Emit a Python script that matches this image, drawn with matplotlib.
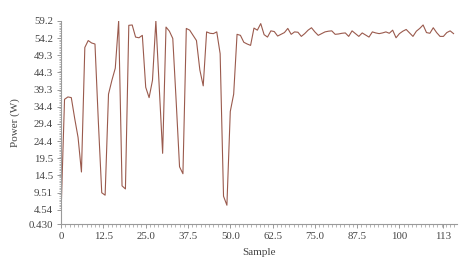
import numpy as np
import matplotlib.pyplot as plt
from matplotlib.ticker import FixedLocator, MultipleLocator

# power readings per sample
power = [
    4.6, 36.5, 37.2, 37.0, 31.0, 25.5, 15.5, 51.5, 53.5, 52.8,
    52.5, 30.0, 9.5, 8.8, 38.0, 42.0, 45.5, 59.2, 11.5, 10.6,
    57.9, 58.0, 54.5, 54.3, 55.0, 40.0, 37.0, 42.0, 59.2, 40.0,
    20.9, 57.4, 56.2, 54.1, 36.0, 17.0, 15.0, 57.0, 56.5, 55.0,
    53.5, 45.0, 40.4, 56.0, 55.6, 55.5, 56.0, 49.7, 8.5, 5.9,
    33.0, 38.0, 55.3, 55.0, 53.0, 52.5, 52.1, 57.1, 56.5, 58.4,
    55.2, 54.5, 56.3, 56.1, 54.8, 55.3, 55.8, 57.0, 55.3, 56.0,
    55.9, 54.7, 55.5, 56.5, 57.2, 56.0, 55.0, 55.5, 56.0, 56.2,
    56.3, 55.3, 55.4, 55.6, 55.7, 54.7, 56.3, 55.5, 54.7, 55.7,
    55.1, 54.5, 56.0, 55.7, 55.5, 55.7, 56.0, 55.6, 56.5, 54.3,
    55.5, 56.2, 56.7, 55.7, 54.7, 56.2, 57.0, 58.0, 55.8, 55.6,
    57.2, 55.8, 54.7, 54.7, 55.8, 56.3, 55.5,
]
sample = np.arange(len(power))

y_ticks = [0.430, 4.54, 9.51, 14.5, 19.5, 24.4, 29.4, 34.4, 39.3, 44.3, 49.3, 54.2, 59.2]
y_labels = ['0.430', '4.54', '9.51', '14.5', '19.5', '24.4', '29.4', '34.4',
            '39.3', '44.3', '49.3', '54.2', '59.2']
x_ticks = [0, 12.5, 25.0, 37.5, 50.0, 62.5, 75.0, 87.5, 100, 113]
x_labels = ['0', '12.5', '25.0', '37.5', '50.0', '62.5', '75.0', '87.5', '100', '113']

plt.rcParams['font.family'] = ['Liberation Serif', 'DejaVu Serif']

fig = plt.figure(figsize=(4.74, 2.74), dpi=100)
ax = fig.add_axes([0.129, 0.182, 0.835, 0.742])

ax.plot(sample, power, color='#9a5a4d', lw=0.8)

ax.set_xlim(0, 117)
ax.set_ylim(0.43, 59.2)

ax.set_xticks(x_ticks)
ax.set_xticklabels(x_labels)
ax.set_yticks(y_ticks)
ax.set_yticklabels(y_labels)
ax.xaxis.set_minor_locator(MultipleLocator(1.25))
minor_y = np.arange(4.54, 59.2, 0.4969)
ax.yaxis.set_minor_locator(FixedLocator(minor_y))

for s in ['top', 'right']:
    ax.spines[s].set_visible(False)
for s in ['left', 'bottom']:
    ax.spines[s].set_color('#9a9a9a')
    ax.spines[s].set_linewidth(0.8)

ax.tick_params(which='major', length=3, width=0.6, color='#888888',
               labelsize=7.8, labelcolor='#444444', pad=3)
ax.tick_params(which='minor', length=1.8, width=0.5, color='#999999')

ax.set_xlabel('Sample', fontsize=8, color='#444444', labelpad=5)
ax.set_ylabel('Power (W)', fontsize=8, color='#444444', labelpad=6)

fig.savefig('out.png', dpi=100)
